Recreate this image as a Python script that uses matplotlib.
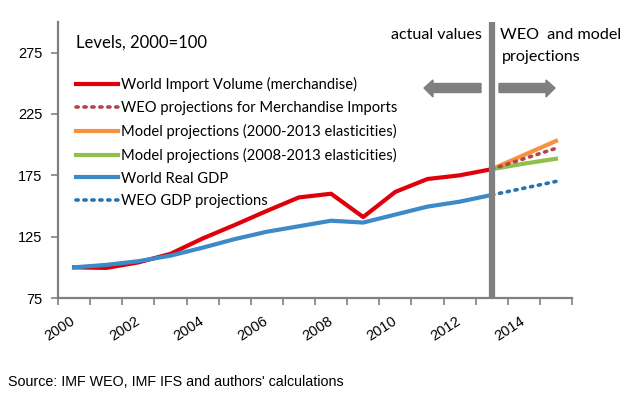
import numpy as np
import matplotlib
matplotlib.use("Agg")
import matplotlib.pyplot as plt
from matplotlib.patches import Polygon

years = list(range(2000, 2016))
imports = [100, 99.5, 104, 111, 123.5, 134.5, 146, 157, 160, 141, 161.5, 172, 175, 180, np.nan, np.nan]
gdp = [100, 102, 105, 109.5, 116, 123, 129, 133.5, 138, 136.5, 143, 149.5, 153.5, 159, np.nan, np.nan]
proj_years = [2013, 2014, 2015]
weo_imports = [180, 188.5, 197]
model_2000_2013 = [180, 191.5, 203]
model_2008_2013 = [180, 184.5, 188.5]
weo_gdp = [159, 164.5, 170]
yticks = [75, 125, 175, 225, 275]
xlabels = [str(y) for y in years if y % 2 == 0]

fig = plt.figure(figsize=(6.25, 3.96), dpi=100)
ax = fig.add_axes([58/625, 1-298/396, (572-58)/625, (298-22)/396])

idx = np.arange(len(years))
pidx = [years.index(y) for y in proj_years]

RED = "#E0000B"
BLUE = "#3C8AC8"
ORANGE = "#F7913D"
GREEN = "#8FBF4D"
DRED = "#B5454A"
DBLUE = "#2673AE"

LEG_FONT = "Lato"
ax.plot(idx, imports, color=RED, lw=3, label="World Import Volume (merchandise)", zorder=4)
ax.plot(pidx, weo_imports, color=DRED, lw=2.6, ls=(0, (0.6, 1.6)), label="WEO projections for Merchandise Imports", zorder=3, dash_capstyle="round")
ax.plot(pidx, model_2000_2013, color=ORANGE, lw=3, label="Model projections (2000-2013 elasticities)", zorder=2)
ax.plot(pidx, model_2008_2013, color=GREEN, lw=3, label="Model projections (2008-2013 elasticities)", zorder=2)
ax.plot(idx, gdp, color=BLUE, lw=3, label="World Real GDP", zorder=4)
ax.plot(pidx, weo_gdp, color=DBLUE, lw=2.6, ls=(0, (0.6, 1.6)), label="WEO GDP projections", zorder=3, dash_capstyle="round")

# vertical divider at 2013
ax.axvline(years.index(2013), color="#808080", lw=4.5, zorder=5)

ax.set_xlim(-0.5, len(years) - 0.5)
ax.set_ylim(75, 300)
ax.set_yticks(yticks)
ax.set_yticklabels([str(v) for v in yticks], fontsize=10.5, family="Liberation Sans")

ax.set_xticks(np.arange(-0.5, len(years), 1.0))
ax.set_xticklabels([])
ax.set_xticks([years.index(int(l)) for l in xlabels], minor=True)
ax.set_xticklabels(xlabels, minor=True, rotation=33, ha="right", va="center",
                   rotation_mode="anchor", fontsize=10.5, family="Liberation Sans")
ax.tick_params(axis="x", which="minor", length=0, pad=16)
ax.tick_params(axis="x", which="major", length=5, color="#808080", width=1.2)
ax.tick_params(axis="y", length=5, color="#808080", width=1.2, pad=6)

for s in ["top", "right"]:
    ax.spines[s].set_visible(False)
for s in ["left", "bottom"]:
    ax.spines[s].set_color("#808080")
    ax.spines[s].set_linewidth(1.6)

leg = ax.legend(loc="upper left", bbox_to_anchor=(0.023, 0.822), frameon=False,
                prop={"family": LEG_FONT, "size": 10.6}, handlelength=2.9,
                handletextpad=0.15, labelspacing=0.6, borderaxespad=0)

ax.text(0.035, 0.925, "Levels, 2000=100", transform=ax.transAxes, fontsize=12,
        family=LEG_FONT, va="center", ha="left")

fig.text(482/625, 1-35/396, "actual values", ha="right", va="center", fontsize=11.6, family=LEG_FONT)
fig.text(500/625, 1-35/396, "WEO  and model", ha="left", va="center", fontsize=11.6, family=LEG_FONT)
fig.text(502/625, 1-57/396, "projections", ha="left", va="center", fontsize=11.6, family=LEG_FONT)

def px(x, y):
    return (x/625, 1-y/396)

left_arrow = [px(424, 88), px(433, 80), px(433, 83.5), px(481, 83.5), px(481, 92.5), px(433, 92.5), px(433, 97)]
right_arrow = [px(555, 88), px(546, 80), px(546, 83.5), px(499, 83.5), px(499, 92.5), px(546, 92.5), px(546, 97)]
for pts in (left_arrow, right_arrow):
    fig.patches.append(Polygon(pts, closed=True, color="#7F7F7F", transform=fig.transFigure))

fig.text(8/625, 1-382/396, "Source: IMF WEO, IMF IFS and authors' calculations", ha="left", va="center",
         fontsize=10.3, family="Liberation Sans")

fig.savefig("out.png", dpi=100)
